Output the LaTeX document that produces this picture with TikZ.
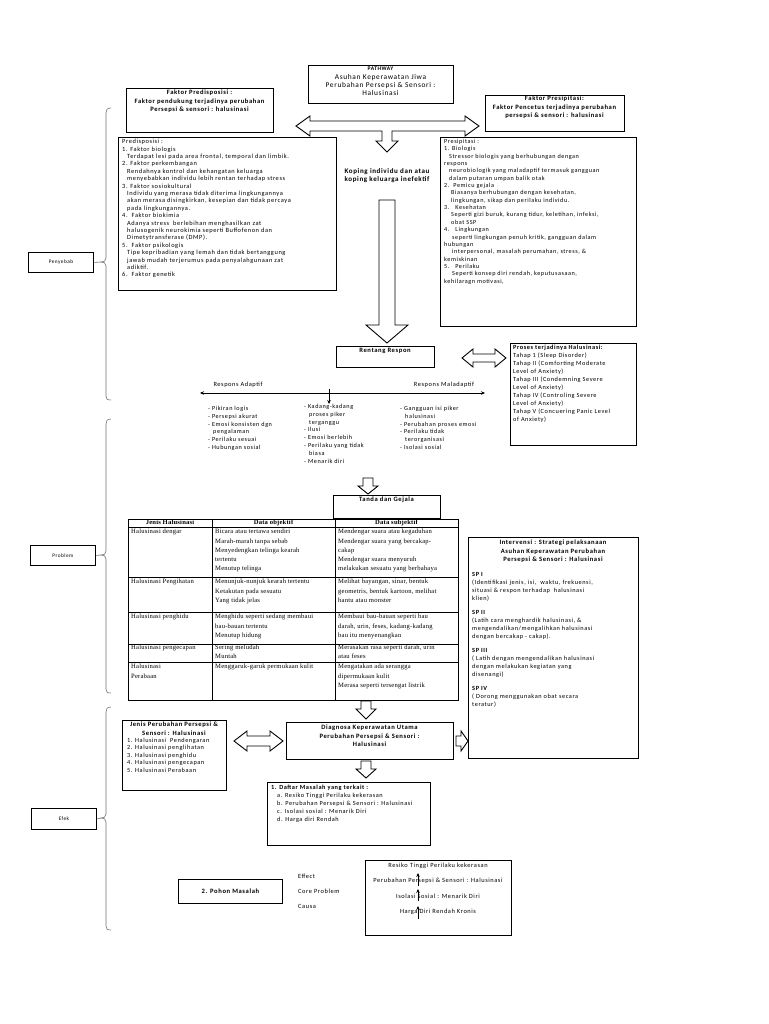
\documentclass[tikz,border=0pt]{standalone}
\usepackage{fontspec}
\setmainfont{Carlito}
\newfontfamily\lsfont[LetterSpace=9]{Carlito}
\newfontfamily\tbfont[LetterSpace=3]{Liberation Serif}
\usetikzlibrary{shadows,arrows.meta}
\tikzset{
  box/.style={draw, line width=0.9pt, fill=white, inner sep=0pt, anchor=north west,
    drop shadow={shadow xshift=0.9pt, shadow yshift=-0.9pt, opacity=1, fill=black}},
  lbl/.style={box, font={\lsfont\fontsize{5.3}{6}\selectfont}},
  tl/.style={anchor=north west, inner sep=0pt, align=left, font={\lsfont\fontsize{6.4}{7.4}\selectfont}},
  tc/.style={anchor=north, inner sep=0pt, align=center, font={\lsfont\bfseries\fontsize{6.6}{8.3}\selectfont}},
  tab/.style={anchor=north west, inner sep=0pt, align=left, font={\tbfont\fontsize{6.6}{9.3}\selectfont}},
  tabh/.style={anchor=north, inner sep=0pt, font={\tbfont\bfseries\fontsize{6.6}{8}\selectfont}},
  barrow/.style={draw, line width=0.9pt, fill=white, line join=miter},
  brk/.style={draw=black!55, line width=0.6pt},
  thinarrow/.style={line width=0.7pt, -{Stealth[length=4pt,width=3.5pt]}},
}
\newcommand\dnarrow[6]{\draw[barrow] (#1-#5,#2) -- (#1+#5,#2) -- (#1+#5,#3) -- (#1+#6,#3) -- (#1,#4) -- (#1-#6,#3) -- (#1-#5,#3) -- cycle;}
\newcommand\hdarrow[6]{\draw[barrow] (#1,#3) -- (#1+#4,#3-#6) -- (#1+#4,#3-#5) -- (#2-#4,#3-#5) -- (#2-#4,#3-#6) -- (#2,#3) -- (#2-#4,#3+#6) -- (#2-#4,#3+#5) -- (#1+#4,#3+#5) -- (#1+#4,#3+#6) -- cycle;}
\newcommand\rtarrow[6]{\draw[barrow] (#1,#3-#5) -- (#2-#4,#3-#5) -- (#2-#4,#3-#6) -- (#2,#3) -- (#2-#4,#3+#6) -- (#2-#4,#3+#5) -- (#1,#3+#5) -- cycle;}
\begin{document}
\begin{tikzpicture}[x=1pt,y=-1pt]
\fill[white] (0,0) rectangle (768,1024);
\useasboundingbox (0,0) rectangle (768,1024);

% ---------- left labels and brackets ----------
\node[lbl, minimum width=65pt, minimum height=20pt] (penyebab) at (28,252) {Penyebab};
\node[lbl, minimum width=65pt, minimum height=20pt] (problem) at (30,545) {Problem};
\node[lbl, minimum width=65pt, minimum height=21pt] (efek) at (31,808) {Efek};
\coordinate (b1) at (101,262);
\coordinate (b2) at (101,555);
\coordinate (b3) at (101,818);
\draw[brk] (111,108) .. controls (107,108) and (106,110) .. (106,113) -- (106,258) .. controls (106,261) and (104,262) .. (b1) .. controls (104,262) and (106,263) .. (106,266) -- (106,396) .. controls (106,399) and (107,400) .. (111,400);
\draw[brk] (111,419) .. controls (107,419) and (106,421) .. (106,424) -- (106,551) .. controls (106,554) and (104,555) .. (b2) .. controls (104,555) and (106,556) .. (106,559) -- (106,689) .. controls (106,692) and (107,693) .. (111,693);
\draw[brk] (111,707) .. controls (107,707) and (106,709) .. (106,712) -- (106,814) .. controls (106,817) and (104,818) .. (b3) .. controls (104,818) and (106,819) .. (106,822) -- (106,926) .. controls (106,929) and (107,930) .. (111,930);
\draw[brk] (penyebab.east) -- (b1);
\draw[brk] (problem.east) -- (b2);
\draw[brk] (efek.east) -- (b3);

% ---------- title and factor headers ----------
\node[box, minimum width=145pt, minimum height=38pt] (title) at (308,65) {};
\node[anchor=north, inner sep=0pt, align=center, font={\lsfont\fontsize{7.4}{8.3}\selectfont}] (titletxt) at (380.5,67) {{\bfseries\fontsize{5.6}{8.3}\selectfont PATHWAY}\\Asuhan Keperawatan Jiwa\\Perubahan Persepsi \& Sensori :\\Halusinasi};

\node[box, minimum width=147pt, minimum height=44pt] (fpre) at (126,88) {};
\node[tc] (fpretxt) at (199.5,90) {Faktor Predisposisi :\\Faktor pendukung terjadinya perubahan\\Persepsi \& sensori : halusinasi};

\node[box, minimum width=139pt, minimum height=36pt] (fpres) at (485,95) {};
\node[tc] (fprestxt) at (554.5,96) {Faktor Presipitasi:\\Faktor Pencetus terjadinya perubahan\\persepsi \& sensori : halusinasi};

% three-way top arrow
\draw[barrow] (296,126) -- (310,116) -- (310,121) -- (465,121) -- (465,116) -- (479,126) -- (465,136) -- (465,131) -- (392,131) -- (392,141) -- (398,141) -- (387,152) -- (376,141) -- (382,141) -- (382,131) -- (310,131) -- (310,136) -- cycle;

% ---------- predisposisi list ----------
\node[box, minimum width=218pt, minimum height=153pt] (predbox) at (118,137) {};
\node[tl] (predtxt) at (122,139) {Predisposisi :\\
1. Faktor biologis\\
\hspace*{5pt}Terdapat lesi pada area frontal, temporal dan limbik.\\
2. Faktor perkembangan\\
\hspace*{5pt}Rendahnya kontrol dan kehangatan keluarga\\
\hspace*{5pt}menyebabkan individu lebih rentan terhadap stress\\
3. Faktor sosiokultural\\
\hspace*{5pt}Individu yang merasa tidak diterima lingkungannya\\
\hspace*{5pt}akan merasa disingkirkan, kesepian dan tidak percaya\\
\hspace*{5pt}pada lingkungannya.\\
4.\ \ Faktor biokimia\\
\hspace*{5pt}Adanya stress\ \ berlebihan menghasilkan zat\\
\hspace*{5pt}halusogenik neurokimia seperti Buffofenon dan\\
\hspace*{5pt}Dimetytransferase (DMP).\\
5.\ \ Faktor psikologis\\
\hspace*{5pt}Tipe kepribadian yang lemah dan tidak bertanggung\\
\hspace*{5pt}jawab mudah terjerumus pada penyalahgunaan zat\\
\hspace*{5pt}adiktif.\\
6.\ \ Faktor genetik};

% ---------- koping ----------
\node[tc, font={\lsfont\bfseries\fontsize{7}{8}\selectfont}] (koping) at (387,168) {Koping individu dan atau\\koping keluarga inefektif};
\dnarrow{387}{200}{325}{343}{8}{21}

% ---------- presipitasi list ----------
\node[box, minimum width=196pt, minimum height=189pt] (presbox) at (440,137) {};
\node[tl, font={\lsfont\fontsize{6.2}{7.35}\selectfont}] (prestxt) at (444,139) {Presipitasi :\\
1. Biologis\\
\hspace*{5pt}Stressor biologis yang berhubungan dengan\\
respons\\
\hspace*{5pt}neurobiologik yang maladaptif termasuk gangguan\\
\hspace*{5pt}dalam putaran umpan balik otak\\
2.\ \ Pemicu gejala\\
\hspace*{7pt}Biasanya berhubungan dengan kesehatan,\\
\hspace*{7pt}lingkungan, sikap dan perilaku individu.\\
3.\ \ \ Kesehatan\\
\hspace*{7pt}Seperti gizi buruk, kurang tidur, keletihan, infeksi,\\
\hspace*{7pt}obat SSP\\
4.\ \ \ Lingkungan\\
\hspace*{8pt}seperti lingkungan penuh kritik, gangguan dalam\\
hubungan\\
\hspace*{8pt}interpersonal, masalah perumahan, stress, \&\\
kemiskinan\\
5.\ \ \ Perilaku\\
\hspace*{8pt}Seperti konsep diri rendah, keputusasaan,\\
kehilaragn motivasi,};

% ---------- rentang respon ----------
\node[box, minimum width=98pt, minimum height=21pt] (rentang) at (336,346) {};
\node[tc] (rentangtxt) at (385,348) {Rentang Respon};
\hdarrow{462}{506}{358}{11}{4}{9}
\node[box, minimum width=126pt, minimum height=102pt] (proses) at (510,343) {};
\node[tl, font={\lsfont\fontsize{6.3}{8}\selectfont}] (prosestxt) at (513,345) {\textbf{Proses terjadinya Halusinasi:}\\
Tahap 1 (Sleep Disorder)\\
Tahap II (Comforting Moderate\\
Level of Anxiety)\\
Tahap III (Condemning Severe\\
Level of Anxiety)\\
Tahap IV (Controling Severe\\
Level of Anxiety)\\
Tahap V (Concuering Panic Level\\
of Anxiety)};

\coordinate (ra) at (200,393);
\coordinate (rm) at (485,393);
\draw[line width=0.7pt, {Stealth[length=4pt,width=3.5pt]}-{Stealth[length=4pt,width=3.5pt]}] (ra) -- (rm);
\node[tl, anchor=center] (adaptif) at (238,385) {Respons Adaptif};
\node[tl, anchor=center] (maladaptif) at (444,385) {Respons Maladaptif};
\coordinate (d1) at (329,389);
\coordinate (d2) at (329,404);
\draw[thinarrow] (d1) -- (d2);

\node[tl, font={\lsfont\fontsize{6.2}{7.8}\selectfont}] (listA) at (208,406) {- Pikiran logis\\- Persepsi akurat\\- Emosi konsisten dgn\\\hspace*{5pt}pengalaman\\- Perilaku sesuai\\- Hubungan sosial};
\node[tl, font={\lsfont\fontsize{6.2}{7.8}\selectfont}] (listB) at (304,404) {- Kadang-kadang\\\hspace*{5pt}proses piker\\\hspace*{5pt}terganggu\\- Ilusi\\- Emosi berlebih\\- Perilaku yang tidak\\\hspace*{5pt}biasa\\- Menarik diri};
\node[tl, font={\lsfont\fontsize{6.2}{7.8}\selectfont}] (listC) at (400,406) {- Gangguan isi piker\\\hspace*{5pt}halusinasi\\- Perubahan proses emosi\\- Perilaku tidak\\\hspace*{5pt}terorganisasi\\- Isolasi sosial};

% ---------- tanda dan gejala ----------
\dnarrow{368}{478}{486}{494}{5}{10}
\node[box, minimum width=107pt, minimum height=23pt] (tanda) at (333,495) {};
\node[tc] (tandatxt) at (386.5,497) {Tanda dan Gejala};

% table
\draw[line width=0.7pt] (128,519) rectangle (458,700);
\draw[line width=0.6pt] (212,519) -- (212,700) (335,519) -- (335,700);
\foreach \yy in {527,577,612,644,662} \draw[line width=0.6pt] (128,\yy) -- (458,\yy);
\node[tabh] (h1) at (170,520) {Jenis Halusinasi};
\node[tabh] (h2) at (273.5,520) {Data objektif};
\node[tabh] (h3) at (396.5,520) {Data subjektif};
\node[tab] (r1a) at (131,529) {Halusinasi dengar};
\node[tab] (r1b) at (215,529) {Bicara atau tertawa sendiri\\Marah-marah tanpa sebab\\Menyedengkan telinga kearah\\tertentu\\Menutup telinga};
\node[tab] (r1c) at (338,529) {Mendengar suara atau kegaduhan\\Mendengar suara yang bercakap-\\cakap\\Mendengar suara menyuruh\\melakukan sesuatu yang berbahaya};
\node[tab] (r2a) at (131,579) {Halusinasi Pengihatan};
\node[tab] (r2b) at (215,579) {Menunjuk-nunjuk kearah tertentu\\Ketakutan pada sesuatu\\Yang tidak jelas};
\node[tab] (r2c) at (338,579) {Melihat bayangan, sinar, bentuk\\geometris, bentuk kartoon, melihat\\hantu atau monster};
\node[tab] (r3a) at (131,614) {Halusinasi penghidu};
\node[tab] (r3b) at (215,614) {Menghidu seperti sedang membaui\\bau-bauan tertentu\\Menutup hidung};
\node[tab] (r3c) at (338,614) {Membaui bau-bauan seperti bau\\darah, urin, feses, kadang-kadang\\bau itu menyenangkan};
\node[tab] (r4a) at (131,645) {Halusinasi pengecapan};
\node[tab, font={\tbfont\fontsize{6.6}{8.6}\selectfont}] (r4b) at (215,645) {Sering meludah\\Muntah};
\node[tab, font={\tbfont\fontsize{6.6}{8.6}\selectfont}] (r4c) at (338,645) {Merasakan rasa seperti darah, urin\\atau feses};
\node[tab] (r5a) at (131,664) {Halusinasi\\Perabaan};
\node[tab] (r5b) at (215,664) {Menggaruk-garuk permukaan kulit};
\node[tab] (r5c) at (338,664) {Mengatakan ada serangga\\dipermukaan kulit\\Merasa seperti tersengat listrik};

% ---------- intervensi ----------
\node[box, minimum width=170pt, minimum height=221pt] (interv) at (468,537) {};
\node[tc] (intervt) at (553,540) {Intervensi : Strategi pelaksanaan\\Asuhan Keperawatan Perubahan\\Persepsi \& Sensori : Halusinasi};
\node[tl, font={\lsfont\fontsize{6.3}{8}\selectfont}] (intervl) at (472,572) {\textbf{SP I}\\
(Identifikasi jenis, isi,\ \ waktu, frekuensi,\\
situasi \& respon terhadap\ \ halusinasi\\
klien)\\[6pt]
\textbf{SP II}\\
(Latih cara menghardik halusinasi, \&\\
mengendalikan/mengalihkan halusinasi\\
dengan bercakap - cakap).\\[6pt]
\textbf{SP III}\\
( Latih dengan mengendalikan halusinasi\\
dengan melakukan kegiatan yang\\
disenangi)\\[6pt]
\textbf{SP IV}\\
( Dorong menggunakan obat secara\\
teratur)};

% ---------- diagnosa ----------
\dnarrow{366}{701}{709}{719}{5}{10}
\node[box, minimum width=104pt, minimum height=70pt] (jenis) at (122,720) {};
\node[tc] (jenist) at (174,722) {Jenis Perubahan Persepsi \&\\Sensori : Halusinasi};
\node[tl, font={\lsfont\fontsize{6.3}{7.4}\selectfont}] (jenisl) at (127,738) {1. Halusinasi\ \ Pendengaran\\2. Halusinasi penglihatan\\3. Halusinasi penghidu\\4. Halusinasi pengecapan\\5. Halusinasi Perabaan};
\hdarrow{234}{283}{741}{13}{5}{10}
\node[box, minimum width=167pt, minimum height=37pt] (diag) at (286,722) {};
\node[tc] (diagt) at (369.5,725) {Diagnosa Keperawatan Utama\\Perubahan Persepsi \& Sensori :\\Halusinasi};
\rtarrow{456}{468}{741}{7}{5}{10}
\dnarrow{366}{761}{769}{778}{5}{10}
\node[box, minimum width=163pt, minimum height=63pt] (daftar) at (267,782) {};
\node[tl, font={\lsfont\fontsize{6.3}{8}\selectfont}] (daftart) at (271,785) {\textbf{1. Daftar Masalah yang terkait :}\\
\hspace*{6pt}a. Resiko Tinggi Perilaku kekerasan\\
\hspace*{6pt}b. Perubahan Persepsi \& Sensori : Halusinasi\\
\hspace*{6pt}c. Isolasi sosial : Menarik Diri\\
\hspace*{6pt}d. Harga diri Rendah};

% ---------- pohon masalah ----------
\node[box, minimum width=104pt, minimum height=24pt, font={\lsfont\bfseries\fontsize{6.6}{8}\selectfont}] (pohon) at (178,879) {2. Pohon Masalah};
\node[tl, anchor=west] (effect) at (298,876) {Effect};
\node[tl, anchor=west] (core) at (298,891) {Core Problem};
\node[tl, anchor=west] (causa) at (298,906) {Causa};
\node[box, minimum width=146pt, minimum height=75pt] (tree) at (365,860) {};
\node[tl, anchor=center] (t1) at (438,866) {Resiko Tinggi Perilaku kekerasan};
\node[tl, anchor=center] (t2) at (438,881) {Perubahan Persepsi \& Sensori : Halusinasi};
\node[tl, anchor=center] (t3) at (438,896) {Isolasi Sosial : Menarik Diri};
\node[tl, anchor=center] (t4) at (438,912) {Harga Diri Rendah Kronis};
\coordinate (a1s) at (418,886);
\coordinate (a1e) at (418,873);
\coordinate (a2s) at (418,901);
\coordinate (a2e) at (418,889);
\coordinate (a3s) at (418,919);
\coordinate (a3e) at (418,906);
\draw[thinarrow] (a1s) -- (a1e);
\draw[thinarrow] (a2s) -- (a2e);
\draw[thinarrow] (a3s) -- (a3e);
\end{tikzpicture}
\end{document}
